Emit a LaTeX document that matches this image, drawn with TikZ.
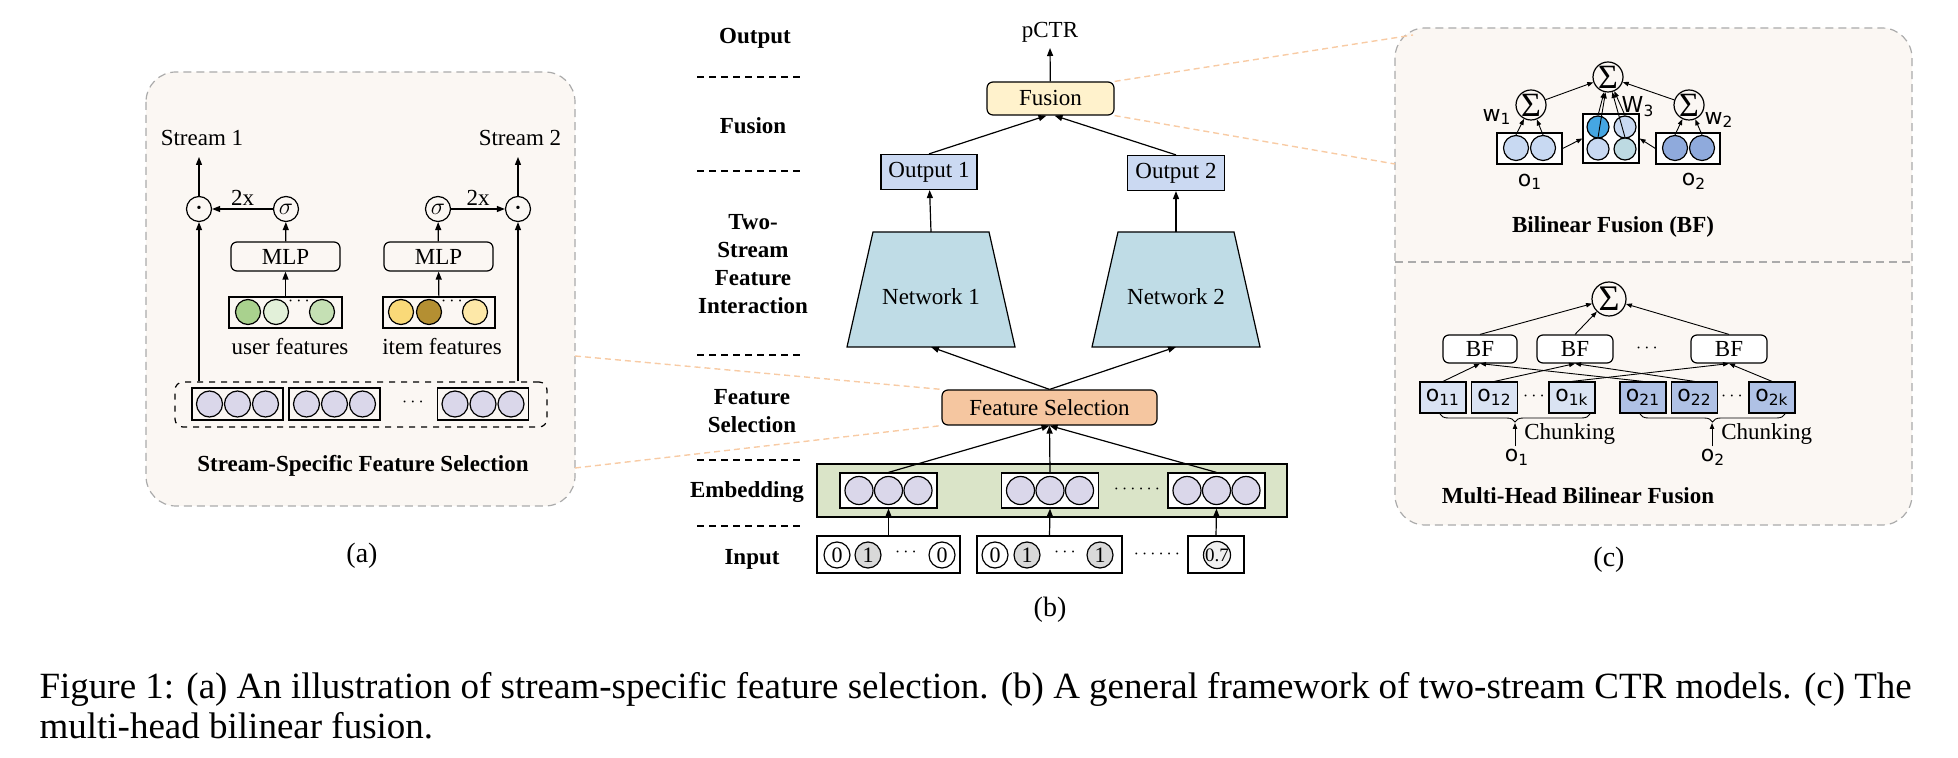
\documentclass[tikz,border=0pt]{standalone}
\usepackage{fontspec}
\setmainfont{Liberation Serif}
\newfontfamily\sansfont{DejaVu Sans}
\usetikzlibrary{arrows.meta,positioning,calc,decorations.pathreplacing}
\definecolor{panelbg}{HTML}{FBF7F3}
\definecolor{panelline}{HTML}{ABABAB}
\definecolor{linkcol}{HTML}{F8CBA4}
\definecolor{fusecol}{HTML}{FFF2CC}
\definecolor{selcol}{HTML}{F5C6A0}
\definecolor{outcol}{HTML}{CBD9F2}
\definecolor{netcol}{HTML}{BFDCE6}
\definecolor{embcol}{HTML}{DAE4C8}
\definecolor{lavcol}{HTML}{DAD7EA}
\definecolor{inpcol}{HTML}{D9D9D9}
\definecolor{greenA}{HTML}{A9D18E}
\definecolor{greenB}{HTML}{E2F0D9}
\definecolor{greenC}{HTML}{C5E0B4}
\definecolor{goldA}{HTML}{F9D978}
\definecolor{goldB}{HTML}{B48F32}
\definecolor{goldC}{HTML}{FDE8A8}
\definecolor{oneA}{HTML}{C8D9F2}
\definecolor{blueA}{HTML}{45A6E2}
\definecolor{tealA}{HTML}{BDDAE2}
\definecolor{twoA}{HTML}{8FAADC}
\definecolor{chunkA}{HTML}{DAE3F3}
\definecolor{chunkB}{HTML}{AFC1E5}
\begin{document}
\begin{tikzpicture}[x=0.5pt,y=-0.5pt,line width=0.6pt,>={Triangle[length=4pt,width=3pt]},
  every node/.style={font=\fontsize{11.5}{13.5}\selectfont},
  panel/.style={draw=panelline,fill=panelbg,dash pattern=on 4pt off 2.5pt,rounded corners=15pt},
  link/.style={draw=linkcol,dash pattern=on 3pt off 2pt,line width=0.7pt},
  layer/.style={font=\fontsize{11.5}{14}\selectfont\bfseries,align=center},
  sep/.style={dash pattern=on 3.5pt off 2.5pt},
  rbox/.style={draw,rounded corners=3pt,inner sep=0pt},
  sbox/.style={draw,inner sep=0pt},
  ball/.style={circle,draw,inner sep=0pt,minimum size=#1},
  ball/.default=13pt,
  opnode/.style={circle,draw,inner sep=0pt,minimum size=12.5pt},
  sumnode/.style={circle,draw,inner sep=0pt,minimum size=15pt,font=\fontsize{17}{17}\selectfont},
  thin arrow/.style={line width=0.45pt,-{Triangle[length=3pt,width=2.2pt]}},
  sanslab/.style={font=\fontsize{11}{13}\selectfont\sansfont},
  sublab/.style={font=\fontsize{14}{16}\selectfont},
  dots/.style={font=\fontsize{9}{10}\selectfont}]
\useasboundingbox (0,0) rectangle (1958,758);

% ---------- (a) stream-specific feature selection
\draw[panel] (146,72) rectangle (575,506);
\node[opnode,font=\fontsize{7}{7}\selectfont] (odot1) at (199,209) {•};
\node[opnode] (sig1) at (286,209) {$\sigma$};
\node[rbox,minimum width=54.5pt,minimum height=14.5pt] (mlp1) at (285.5,256.5) {MLP};
\node[sbox,minimum width=56.5pt,minimum height=15.5pt] (ufeat) at (285.5,312.5) {};
\node[ball=12.5pt,fill=greenA] at (248,312) {};
\node[ball=12.5pt,fill=greenB] at (276,312) {};
\node[ball=12.5pt,fill=greenC] at (322,312) {};
\node[dots] at (299,301) {$\cdots$};
\node (ufeatlab) at (290,347) {user features};
\node[opnode,font=\fontsize{7}{7}\selectfont] (odot2) at (518,209) {•};
\node[opnode] (sig2) at (438,209) {$\sigma$};
\node[rbox,minimum width=54.5pt,minimum height=14.5pt] (mlp2) at (438.5,256.5) {MLP};
\node[sbox,minimum width=56pt,minimum height=15.5pt] (ifeat) at (439,312.5) {};
\node[ball=12.5pt,fill=goldA] at (401,312) {};
\node[ball=12.5pt,fill=goldB] at (429,312) {};
\node[ball=12.5pt,fill=goldC] at (475,312) {};
\node[dots] at (452,301) {$\cdots$};
\node (ifeatlab) at (442,347) {item features};
\node (str1) at (202,138) {Stream 1};
\node (str2) at (520,138) {Stream 2};
\coordinate (str1tip) at (199,157);
\coordinate (str2tip) at (518,157);
\draw[->] (ufeat) -- (mlp1);
\draw[->] (mlp1) -- (sig1);
\draw[->] (sig1) -- node[above=-2pt]{2x} (odot1);
\draw[->] (odot1) -- (str1tip);
\draw[->] (ifeat) -- (mlp2);
\draw[->] (mlp2) -- (sig2);
\draw[->] (sig2) -- node[above=-2pt]{2x} (odot2);
\draw[->] (odot2) -- (str2tip);
\node[draw,dashed,rounded corners=4pt,minimum width=186pt,minimum height=22.5pt] (selbox) at (361,404.5) {};
\foreach \cx in {237.5,334.5,483} {
  \node[sbox,minimum width=45.5pt,minimum height=16pt] at (\cx,404) {};
  \foreach \dx in {-28,0,28}
    \node[ball=13pt,fill=lavcol] at (\cx+\dx,404) {};
}
\node[dots] at (413,402) {$\cdots$};
\draw[->] (selbox.north -| odot1) -- (odot1);
\draw[->] (selbox.north -| odot2) -- (odot2);
\node[font=\fontsize{11.5}{13.5}\selectfont\bfseries] (atitle) at (363,466) {Stream-Specific Feature Selection};
\node[sublab] (alab) at (362,556) {(a)};

% ---------- (b) two-stream framework
\node[layer] (lout) at (755,38) {Output};
\draw[sep] (697,77) -- (803,77);
\node[layer] (lfus) at (753,126) {Fusion};
\draw[sep] (697,171) -- (803,171);
\node[layer] (lnet) at (753,264) {Two-\\Stream\\Feature\\Interaction};
\draw[sep] (697,355) -- (803,355);
\node[layer] (lsel) at (752,411) {Feature\\Selection};
\draw[sep] (697,460) -- (803,460);
\node[layer] (lemb) at (747,492) {Embedding};
\draw[sep] (697,526) -- (803,526);
\node[layer] (linp) at (752,559) {Input};

\node[rbox,fill=fusecol,minimum width=63.5pt,minimum height=16.5pt] (fusion) at (1050.5,98.5) {Fusion};
\node (pctr) at (1050,32) {pCTR};
\coordinate (pctrtip) at (1050,48);
\draw[->] (fusion) -- (pctrtip);
\node[sbox,fill=outcol,minimum width=48pt,minimum height=17.5pt] (out1) at (929,172) {Output 1};
\node[sbox,fill=outcol,minimum width=48.5pt,minimum height=17.5pt] (out2) at (1176,173) {Output 2};
\draw[fill=netcol] (873,232) -- (989,232) -- (1015,347) -- (847,347) -- cycle;
\draw[fill=netcol] (1118,232) -- (1234,232) -- (1260,347) -- (1092,347) -- cycle;
\node (net1) at (931,297) {Network 1};
\node (net2) at (1176,297) {Network 2};
\coordinate (net1top) at (931,232);
\coordinate (net1bot) at (931,347);
\coordinate (net2top) at (1176,232);
\coordinate (net2bot) at (1176,347);
\draw[->] (net1top) -- (out1);
\draw[->] (net2top) -- (out2);
\draw[->] (out1.north) -- ($(fusion.south)+(-4,0)$);
\draw[->] (out2.north) -- ($(fusion.south)+(4,0)$);
\node[rbox,fill=selcol,minimum width=107.5pt,minimum height=17.5pt] (fsel) at (1049.5,407.5) {Feature Selection};
\draw[->] (fsel.north) -- (net1bot);
\draw[->] (fsel.north) -- (net2bot);
\node[sbox,fill=embcol,minimum width=235pt,minimum height=26.5pt] (emb) at (1052,490.5) {};
\foreach \cx/\nm in {888.5/e1,1050/e2,1216.5/e3} {
  \node[sbox,fill=white,minimum width=48.5pt,minimum height=17.5pt] (\nm) at (\cx,490.5) {};
  \foreach \dx in {-29.5,0,29.5}
    \node[ball=14pt,fill=lavcol] at (\cx+\dx,490.5) {};
  \draw[->] (\nm.north) -- (fsel.south);
}
\node[dots] at (1137,489) {$\cdots\cdots$};
\node[sbox,minimum width=71.5pt,minimum height=18.5pt] (in1) at (888.5,554.5) {};
\node[sbox,minimum width=72.5pt,minimum height=18.5pt] (in2) at (1049.5,554.5) {};
\node[sbox,minimum width=28pt,minimum height=18.5pt] (in3) at (1216,554.5) {};
\foreach \px/\val/\col in {837/0/white,868/1/inpcol,942/0/white,995/0/white,1027/1/inpcol,1100/1/inpcol}
  \node[ball=13pt,fill=\col,font=\fontsize{11}{12}\selectfont] at (\px,555) {\val};
\node[ball=13pt,fill=inpcol!40,font=\fontsize{9.5}{10}\selectfont] at (1217,555) {0.7};
\node[dots] at (906,552) {$\cdots$};
\node[dots] at (1065,552) {$\cdots$};
\node[dots] at (1157,554) {$\cdots\cdots$};
\draw[->] (in1.north) -- (e1.south);
\draw[->] (in2.north) -- (e2.south);
\draw[->] (in3.north) -- (e3.south);
\node[sublab] (blab) at (1050,610) {(b)};

% ---------- (c) multi-head bilinear fusion
\draw[panel] (1395,28) rectangle (1912,525);
\draw[draw=panelline,dash pattern=on 4pt off 2.5pt] (1395,262) -- (1912,262);
% links between panels
\draw[link] (575,356) -- (fsel.north west);
\draw[link] (575,468) -- (fsel.south west);
\draw[link] (fusion.north east) -- (1413,35);
\draw[link] (fusion.south east) -- (1395,164);

\node[sumnode] (sumtop) at (1608,77) {Σ};
\node[sumnode] (suml) at (1531,105) {Σ};
\node[sumnode] (sumr) at (1689,105) {Σ};
\node[sbox,fill=white,minimum width=32.5pt,minimum height=15.5pt] (bo1) at (1529.5,148.5) {};
\node[ball=12.5pt,fill=oneA] (a1) at (1516,148) {};
\node[ball=12.5pt,fill=oneA] (a2) at (1543,148) {};
\node[sbox,fill=white,minimum width=28pt,minimum height=24.5pt] (bw3) at (1611,138.5) {};
\node[ball=11pt,fill=blueA] (c1) at (1598,127) {};
\node[ball=11pt,fill=oneA] (c2) at (1625,127) {};
\node[ball=11pt,fill=oneA] (c3) at (1598,149) {};
\node[ball=11pt,fill=tealA] (c4) at (1625,149) {};
\node[sbox,fill=white,minimum width=32pt,minimum height=15.5pt] (bo2) at (1688,148.5) {};
\node[ball=12.5pt,fill=twoA] (b1) at (1675,148) {};
\node[ball=12.5pt,fill=twoA] (b2) at (1702,148) {};
\node[sanslab] at (1497,117) {w\textsubscript{1}};
\node[sanslab] at (1719,120) {w\textsubscript{2}};
\node[sanslab] at (1638,107) {W\textsubscript{3}};
\node[sanslab] at (1530,182) {o\textsubscript{1}};
\node[sanslab] at (1694,181) {o\textsubscript{2}};
\foreach \n in {a1,a2} \draw[thin arrow] (\n.north) -- (suml);
\foreach \n in {b1,b2} \draw[thin arrow] (\n.north) -- (sumr);
\foreach \n in {c1,c2,c3,c4} \draw[thin arrow] (\n.north) -- (sumtop);
\draw[thin arrow] (suml) -- (sumtop);
\draw[thin arrow] (sumr) -- (sumtop);
\draw[thin arrow] (bo1.east) -- (bw3.west);
\draw[thin arrow] (bo2.west) -- (bw3.east);
\node[font=\fontsize{11.5}{13.5}\selectfont\bfseries] (bftitle) at (1613,227) {Bilinear Fusion (BF)};

\node[sumnode,minimum size=17pt,font=\fontsize{18}{18}\selectfont] (sumall) at (1609,299) {Σ};
\node[rbox,fill=white,minimum width=37pt,minimum height=14pt] (bf1) at (1480,349) {BF};
\node[rbox,fill=white,minimum width=38pt,minimum height=14pt] (bf2) at (1575,349) {BF};
\node[rbox,fill=white,minimum width=38pt,minimum height=14pt] (bf3) at (1729,349) {BF};
\node[dots] at (1647,348) {$\cdots$};
\foreach \px/\nm/\sub/\col in {1443/o11/11/chunkA,1494.5/o12/12/chunkA,1572/o1k/1k/chunkA,1643/o21/21/chunkB,1694.5/o22/22/chunkB,1772/o2k/2k/chunkB}
  \node[sbox,fill=\col,minimum width=23pt,minimum height=15.5pt,sanslab] (\nm) at (\px,397.5) {o\textsubscript{\sub}};
\node[dots] at (1534,396) {$\cdots$};
\node[dots] at (1732,396) {$\cdots$};
\draw[thin arrow] (o11.north) -- (bf1.south);
\draw[thin arrow] (o21.north) -- (bf1.south);
\draw[thin arrow] (o12.north) -- (bf2.south);
\draw[thin arrow] (o22.north) -- (bf2.south);
\draw[thin arrow] (o1k.north) -- (bf3.south);
\draw[thin arrow] (o2k.north) -- (bf3.south);
\foreach \n in {bf1,bf2,bf3} \draw[thin arrow] (\n.north) -- (sumall);
\draw[line width=0.45pt,decorate,decoration={brace,mirror,amplitude=4pt}] (1440,414) -- (1590,414);
\draw[line width=0.45pt,decorate,decoration={brace,mirror,amplitude=4pt}] (1640,414) -- (1785,414);
\coordinate (tip1) at (1515,423);
\coordinate (tip2) at (1712,423);
\node[sanslab,inner sep=1pt] (ch1) at (1517,457) {o\textsubscript{1}};
\node[sanslab,inner sep=1pt] (ch2) at (1713,457) {o\textsubscript{2}};
\draw[thin arrow] (ch1.north -| tip1) -- (tip1);
\draw[thin arrow] (ch2.north -| tip2) -- (tip2);
\node[anchor=west] at (1517,434) {Chunking};
\node[anchor=west] at (1714,434) {Chunking};
\node[font=\fontsize{11.5}{13.5}\selectfont\bfseries] (mhtitle) at (1578,496) {Multi-Head Bilinear Fusion};
\node[sublab] (clab) at (1609,560) {(c)};

% ---------- caption
\node[anchor=west,inner sep=0pt,font=\fontsize{18.5}{22}\selectfont] (cap1) at (39,689) {\makebox[936pt][s]{Figure 1: (a) An illustration of stream-specific feature selection. (b) A general framework of two-stream CTR models. (c) The}};
\node[anchor=west,inner sep=0pt,font=\fontsize{18.5}{22}\selectfont] (cap2) at (39,726) {multi-head bilinear fusion.};
\end{tikzpicture}
\end{document}
